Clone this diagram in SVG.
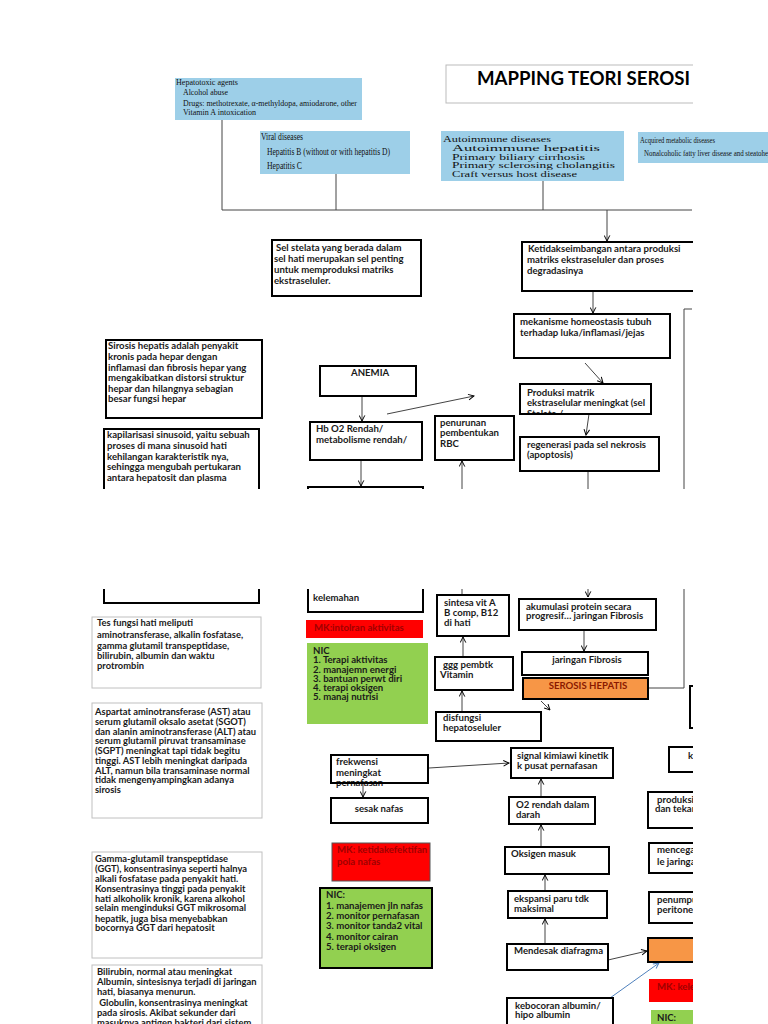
<svg xmlns="http://www.w3.org/2000/svg" width="768" height="1024" viewBox="0 0 768 1024">
<defs>
<style>
.bx{fill:#fff;stroke:#000;stroke-width:2}
.gb{fill:#fff;stroke:#c0c0c0;stroke-width:1}
.blue{fill:#9dcfe8}
.t{font-family:Lato,"Liberation Sans",sans-serif;font-size:9.6px;font-weight:bold;fill:#1a1a1a}
.lt{font-family:Lato,"Liberation Sans",sans-serif;font-size:9.4px;font-weight:bold;fill:#1a1a1a}
.sf{font-family:"Liberation Serif",serif;fill:#111}
.ln{fill:none;stroke:#444;stroke-width:1}
.ar{fill:none;stroke:#444;stroke-width:1;marker-end:url(#ah)}
.mk{fill:#a00000}
</style>
<marker id="ah" viewBox="0 0 10 10" refX="9" refY="5" markerWidth="7" markerHeight="7" markerUnits="userSpaceOnUse" orient="auto"><path d="M1,1 L9,5 L1,9" fill="none" stroke="#000" stroke-width="1.4"/></marker>
<marker id="ahb" viewBox="0 0 10 10" refX="9" refY="5" markerWidth="7" markerHeight="7" markerUnits="userSpaceOnUse" orient="auto"><path d="M1,1 L9,5 L1,9" fill="none" stroke="#4f81bd" stroke-width="1.4"/></marker>
<clipPath id="pg"><rect x="0" y="0" width="693" height="1024"/></clipPath>
<clipPath id="cp1"><rect x="520" y="384" width="131" height="29"/></clipPath>
</defs>
<rect width="768" height="1024" fill="#fff"/>

<g id="connectors">
<path class="ln" d="M222,120 V210 M336,174 V210 M543,181 V210"/>
<path class="ln" d="M222,210 H692" clip-path="url(#pg)"/>
<path class="ar" d="M607,210 V241"/>
<path class="ar" d="M593,291 V313"/>
<path class="ar" d="M585,363 L603,383"/>
<path class="ar" d="M589,414 L586,435"/>
<path class="ar" d="M588,471 V597"/>
<path class="ar" d="M362,396 V421"/>
<path class="ar" d="M361,460 V486"/>
<path class="ar" d="M387,414 L474,396"/>
<path class="ar" d="M462,595 V461"/>
<path class="ln" d="M692,309 H684 V688 H648"/>
<path class="ar" d="M463,657 V637"/>
<path class="ar" d="M462,711 V691"/>
<path class="ar" d="M541,701 L550,710"/>
<path class="ar" d="M584,630 V651"/>
<path class="ar" d="M429,768 L509,763"/>
<path class="ar" d="M363,783 V797"/>
<path class="ar" d="M541,797 V779"/>
<path class="ar" d="M541,847 V825"/>
<path class="ar" d="M545,891 V875"/>
<path class="ar" d="M545,944 V919"/>
<path class="ar" d="M608,960 L647,951"/>
<path d="M610,998 L659,963" fill="none" stroke="#4f81bd" stroke-width="1" marker-end="url(#ahb)"/>
<path class="ar" d="M576,851 L587,861"/>
</g>

<g id="title" clip-path="url(#pg)">
<rect x="446" y="65" width="300" height="38" fill="#fff" stroke="#bbb" stroke-width="1"/>
<text x="477" y="85" font-family="Lato,'Liberation Sans',sans-serif" font-size="19" font-weight="bold" fill="#000" textLength="213" lengthAdjust="spacingAndGlyphs">MAPPING TEORI SEROSI</text>
</g>

<g id="hepatotoxic">
<rect class="blue" x="175" y="78" width="187" height="42"/>
<text class="sf" font-size="8"><tspan x="176" y="85" textLength="62" lengthAdjust="spacingAndGlyphs">Hepatotoxic agents</tspan><tspan x="183" y="95" textLength="45" lengthAdjust="spacingAndGlyphs">Alcohol abuse</tspan><tspan x="183" y="106" textLength="174" lengthAdjust="spacingAndGlyphs">Drugs: methotrexate, α-methyldopa, amiodarone, other</tspan><tspan x="183" y="115" textLength="73" lengthAdjust="spacingAndGlyphs">Vitamin A intoxication</tspan></text>
</g>

<g id="viral">
<rect class="blue" x="260" y="131" width="150" height="43"/>
<text class="sf" font-size="10"><tspan x="261" y="140" textLength="42" lengthAdjust="spacingAndGlyphs">Viral diseases</tspan><tspan x="267" y="155" textLength="123" lengthAdjust="spacingAndGlyphs">Hepatitis B (without or with hepatitis D)</tspan><tspan x="267" y="169" textLength="35" lengthAdjust="spacingAndGlyphs">Hepatitis C</tspan></text>
</g>

<g id="autoimmune">
<rect class="blue" x="441" y="131" width="183" height="50"/>
<text class="sf" font-size="9"><tspan x="443" y="142" textLength="108" lengthAdjust="spacingAndGlyphs">Autoimmune diseases</tspan><tspan x="452" y="151" textLength="148" lengthAdjust="spacingAndGlyphs">Autoimmune hepatitis</tspan><tspan x="452" y="159.5" textLength="133" lengthAdjust="spacingAndGlyphs">Primary biliary cirrhosis</tspan><tspan x="452" y="168" textLength="163" lengthAdjust="spacingAndGlyphs">Primary sclerosing cholangitis</tspan><tspan x="452" y="177" textLength="125" lengthAdjust="spacingAndGlyphs">Craft versus host disease</tspan></text>
</g>

<g id="acquired">
<rect class="blue" x="638" y="132" width="140" height="31"/>
<text class="sf" font-size="9"><tspan x="640" y="143" textLength="75" lengthAdjust="spacingAndGlyphs">Acquired metabolic diseases</tspan><tspan x="644" y="156" textLength="141" lengthAdjust="spacingAndGlyphs">Nonalcoholic fatty liver disease and steatohepatitis</tspan></text>
</g>

<g id="sel-stelata">
<rect class="bx" x="272" y="240" width="149" height="56"/>
<text class="t"><tspan x="276" y="251"> Sel stelata yang berada dalam</tspan><tspan x="274" y="262">sel hati merupakan sel penting</tspan><tspan x="274" y="273">untuk memproduksi matriks</tspan><tspan x="274" y="284">ekstraseluler.</tspan></text>
</g>

<g id="ketidakseimbangan" clip-path="url(#pg)">
<rect class="bx" x="522" y="242" width="200" height="49"/>
<text class="t"><tspan x="528" y="252"> Ketidakseimbangan antara produksi</tspan><tspan x="527" y="263">matriks ekstraseluler dan proses</tspan><tspan x="527" y="274">degradasinya</tspan></text>
</g>

<g id="mekanisme">
<rect class="bx" x="514" y="314" width="156" height="44"/>
<text class="t"><tspan x="520" y="325">mekanisme homeostasis tubuh</tspan><tspan x="520" y="336">terhadap luka/inflamasi/jejas</tspan></text>
</g>

<g id="produksi-matrik">
<rect class="bx" x="520" y="384" width="131" height="30"/>
<text class="t" clip-path="url(#cp1)"><tspan x="527" y="396">Produksi matrik</tspan><tspan x="527" y="406">ekstraselular meningkat  (sel</tspan><tspan x="527" y="416.5">Stelata /</tspan></text>
</g>

<g id="regenerasi">
<rect class="bx" x="520" y="437" width="139" height="34"/>
<text class="t"><tspan x="527" y="448">regenerasi  pada sel nekrosis</tspan><tspan x="527" y="458">(apoptosis)</tspan></text>
</g>

<g id="sirosis">
<rect class="bx" x="106" y="340" width="156" height="78"/>
<text class="t"><tspan x="108" y="349">Sirosis hepatis adalah penyakit</tspan><tspan x="108" y="360">kronis pada hepar dengan</tspan><tspan x="108" y="371">inflamasi dan fibrosis hepar yang</tspan><tspan x="108" y="381">mengakibatkan distorsi struktur</tspan><tspan x="108" y="392">hepar dan hilangnya sebagian</tspan><tspan x="108" y="402">besar fungsi hepar</tspan></text>
</g>

<g id="kapilarisasi">
<rect class="bx" x="104" y="429" width="155" height="174"/>
<text class="t"><tspan x="107" y="438">kapilarisasi sinusoid, yaitu sebuah</tspan><tspan x="107" y="449">proses di mana sinusoid hati</tspan><tspan x="107" y="460">kehilangan karakteristik nya,</tspan><tspan x="107" y="470">sehingga mengubah pertukaran</tspan><tspan x="107" y="481">antara hepatosit dan plasma</tspan></text>
</g>

<g id="anemia">
<rect class="bx" x="320" y="366" width="96" height="30"/>
<text class="t" x="351" y="376">ANEMIA</text>
</g>

<g id="hb-o2">
<rect class="bx" x="310" y="422" width="112" height="38"/>
<text class="t"><tspan x="316" y="432">Hb  O2 Rendah/</tspan><tspan x="316" y="443">metabolisme rendah/</tspan></text>
</g>

<g id="penurunan-rbc">
<rect class="bx" x="435" y="416" width="79" height="44"/>
<text class="t"><tspan x="440" y="426">penurunan</tspan><tspan x="440" y="436">pembentukan</tspan><tspan x="440" y="447">RBC</tspan></text>
</g>

<g id="kelemahan">
<rect class="bx" x="308" y="487" width="115" height="125"/>
<text class="t" x="313" y="601">kelemahan</text>
</g>

<!-- page gap -->
<rect x="0" y="489" width="768" height="100" fill="#fff"/>

<g id="mk-intoleran">
<rect x="306" y="620" width="117" height="18" fill="#ff0000"/>
<text class="t mk" x="314" y="631">MK:intolran aktivitas</text>
</g>

<g id="nic-1">
<rect x="307" y="643" width="121" height="81" fill="#92d050"/>
<text class="t"><tspan x="313" y="654">NIC</tspan><tspan x="313" y="663">1. Terapi aktivitas</tspan><tspan x="313" y="673">2. manajemn energi</tspan><tspan x="313" y="682">3. bantuan perwt diri</tspan><tspan x="313" y="691">4. terapi oksigen</tspan><tspan x="313" y="700">5. manaj nutrisi</tspan></text>
</g>

<g id="tes-fungsi">
<rect class="gb" x="92" y="617" width="169" height="71"/>
<text class="lt"><tspan x="97" y="626">Tes fungsi hati meliputi</tspan><tspan x="97" y="638">aminotransferase, alkalin fosfatase,</tspan><tspan x="97" y="649">gamma glutamil transpeptidase,</tspan><tspan x="97" y="659">bilirubin, albumin dan waktu</tspan><tspan x="97" y="669">protrombin</tspan></text>
</g>

<g id="aspartat">
<rect class="gb" x="92" y="703" width="170" height="115"/>
<text class="lt"><tspan x="95" y="715">Aspartat aminotransferase (AST) atau</tspan><tspan x="95" y="725">serum glutamil oksalo asetat (SGOT)</tspan><tspan x="95" y="735">dan alanin aminotransferase (ALT) atau</tspan><tspan x="95" y="744">serum glutamil piruvat transaminase</tspan><tspan x="95" y="754">(SGPT) meningkat tapi tidak begitu</tspan><tspan x="95" y="764">tinggi. AST lebih meningkat daripada</tspan><tspan x="95" y="774">ALT, namun bila transaminase normal</tspan><tspan x="95" y="783">tidak mengenyampingkan adanya</tspan><tspan x="95" y="793">sirosis</tspan></text>
</g>

<g id="gamma-gt">
<rect class="gb" x="92" y="852" width="170" height="106"/>
<text class="lt"><tspan x="95" y="862">Gamma-glutamil transpeptidase</tspan><tspan x="95" y="872">(GGT), konsentrasinya seperti halnya</tspan><tspan x="95" y="882">alkali fosfatase pada penyakit hati.</tspan><tspan x="95" y="892">Konsentrasinya tinggi pada penyakit</tspan><tspan x="95" y="902">hati alkoholik kronik, karena alkohol</tspan><tspan x="95" y="911">selain menginduksi GGT mikrosomal</tspan><tspan x="95" y="922">hepatik, juga bisa menyebabkan</tspan><tspan x="95" y="931">bocornya GGT dari hepatosit</tspan></text>
</g>

<g id="bilirubin">
<rect class="gb" x="92" y="965" width="170" height="80"/>
<text class="lt"><tspan x="97" y="975">Bilirubin,  normal atau meningkat</tspan><tspan x="97" y="985">Albumin, sintesisnya terjadi di jaringan</tspan><tspan x="97" y="995">hati, biasanya menurun.</tspan><tspan x="97" y="1006"> Globulin, konsentrasinya meningkat</tspan><tspan x="97" y="1016">pada sirosis. Akibat sekunder dari</tspan><tspan x="97" y="1026">masuknya antigen bakteri dari sistem</tspan></text>
</g>

<g id="sintesa-vit">
<rect class="bx" x="437" y="595" width="72" height="41"/>
<text class="t"><tspan x="444" y="606">sintesa vit A</tspan><tspan x="444" y="616">B comp, B12</tspan><tspan x="444" y="626">di hati</tspan></text>
</g>

<g id="ggg-pembtk">
<rect class="bx" x="435" y="657" width="78" height="33"/>
<text class="t"><tspan x="443" y="668">ggg pembtk</tspan><tspan x="440" y="678">Vitamin</tspan></text>
</g>

<g id="disfungsi">
<rect class="bx" x="436" y="712" width="105" height="29"/>
<text class="t"><tspan x="443" y="721">disfungsi</tspan><tspan x="443" y="731">hepatoseluler</tspan></text>
</g>

<g id="akumulasi">
<rect class="bx" x="519" y="599" width="137" height="31"/>
<text class="t"><tspan x="526" y="610"> akumulasi protein secara</tspan><tspan x="526" y="619">progresif… jaringan Fibrosis</tspan></text>
</g>

<g id="jaringan-fibrosis">
<rect class="bx" x="522" y="652" width="126" height="23"/>
<text class="t" x="587" y="663" text-anchor="middle">jaringan  Fibrosis</text>
</g>

<g id="serosis-hepatis">
<rect x="523" y="678" width="125" height="21" fill="#f79646" stroke="#000" stroke-width="2"/>
<text class="t" x="588" y="689" text-anchor="middle" style="fill:#8b1a00">SEROSIS   HEPATIS</text>
</g>

<g id="right-stubs" clip-path="url(#pg)">
<rect class="bx" x="690" y="686" width="30" height="42"/>
<g id="k-box"><rect class="bx" x="669" y="747" width="50" height="25"/><text class="t" x="688" y="759">k</text></g>
<g id="produksi-tekanan"><rect class="bx" x="648" y="792" width="60" height="36"/><text class="t"><tspan x="657" y="803">produksi</tspan><tspan x="655" y="812">dan tekan</tspan></text></g>
<g id="mencegah"><rect class="bx" x="649" y="843" width="60" height="30"/><text class="t"><tspan x="657" y="853">mencega</tspan><tspan x="657" y="865">le jaringa</tspan></text></g>
<g id="penumpukan"><rect class="bx" x="649" y="892" width="60" height="31"/><text class="t"><tspan x="657" y="903">penumpu</tspan><tspan x="657" y="913">peritonea</tspan></text></g>
<g id="orange-box"><rect x="648" y="938" width="60" height="24" fill="#f79646" stroke="#000" stroke-width="2"/></g>
<g id="mk-kelel"><rect x="649" y="979" width="60" height="23" fill="#ff0000"/><text class="t mk" x="657" y="990">MK: kelel</text></g>
<g id="nic-3"><rect x="651" y="1010" width="60" height="20" fill="#92d050"/><text class="t" x="657" y="1021">NIC:</text></g>
</g>

<g id="frekwensi">
<text class="t"><tspan x="336" y="765">frekwensi</tspan><tspan x="336" y="776">meningkat</tspan><tspan x="336" y="786">pernafasan</tspan></text>
<rect class="bx" x="331" y="755" width="97" height="28" style="fill:none"/>
</g>

<g id="sesak-nafas">
<rect class="bx" x="331" y="798" width="97" height="25"/>
<text class="t" x="379" y="812" text-anchor="middle">sesak  nafas</text>
</g>

<g id="mk-pola-nafas">
<rect x="332" y="843" width="98" height="38" fill="#ff0000" stroke="#555" stroke-width="1"/>
<text class="t mk"><tspan x="337" y="853">MK:  ketidakefektifan</tspan><tspan x="337" y="865">pola nafas</tspan></text>
</g>

<g id="nic-2">
<rect x="320" y="888" width="112" height="80" fill="#92d050" stroke="#000" stroke-width="2"/>
<text class="t"><tspan x="326" y="898">NIC:</tspan><tspan x="326" y="909">1. manajemen jln nafas</tspan><tspan x="326" y="919">2. monitor pernafasan</tspan><tspan x="326" y="929">3. monitor tanda2 vital</tspan><tspan x="326" y="940">4. monitor cairan</tspan><tspan x="326" y="950">5. terapi oksigen</tspan></text>
</g>

<g id="signal-kimiawi">
<rect class="bx" x="511" y="748" width="102" height="30"/>
<text class="t"><tspan x="517" y="759">signal  kimiawi kinetik</tspan><tspan x="517" y="769">k pusat pernafasan</tspan></text>
</g>

<g id="o2-rendah">
<rect class="bx" x="509" y="797" width="86" height="27"/>
<text class="t"><tspan x="516" y="808">O2 rendah dalam</tspan><tspan x="516" y="818">darah</tspan></text>
</g>

<g id="oksigen-masuk">
<rect class="bx" x="505" y="847" width="104" height="27"/>
<text class="t" x="511" y="857">Oksigen  masuk</text>
</g>

<g id="ekspansi-paru">
<rect class="bx" x="508" y="891" width="99" height="27"/>
<text class="t"><tspan x="514" y="902">ekspansi paru tdk</tspan><tspan x="514" y="912">maksimal</tspan></text>
</g>

<g id="mendesak-diafragma">
<rect class="bx" x="507" y="944" width="101" height="26"/>
<text class="t" x="514" y="954">Mendesak diafragma</text>
</g>

<g id="kebocoran-albumin">
<rect class="bx" x="507" y="998" width="106" height="40"/>
<text class="t"><tspan x="515" y="1009">kebocoran albumin/</tspan><tspan x="515" y="1018">hipo albumin</tspan></text>
</g>
</svg>
